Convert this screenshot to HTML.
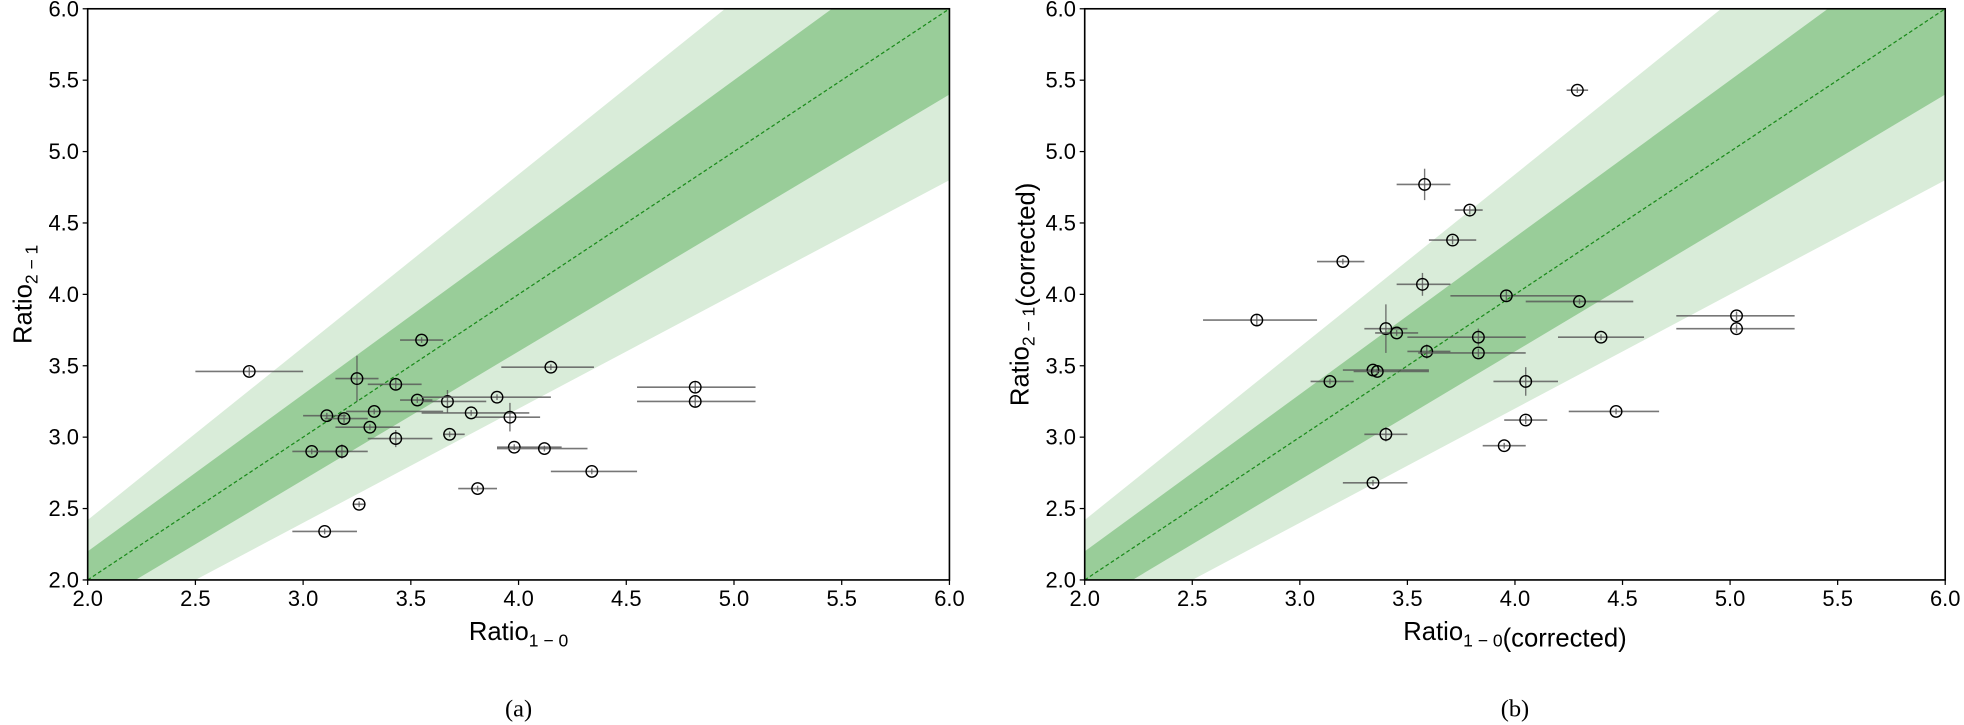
<!DOCTYPE html>
<html><head><meta charset="utf-8"><style>body{margin:0;background:#fff}svg{display:block}</style></head>
<body>
<svg id="s" xmlns="http://www.w3.org/2000/svg" width="1964" height="725" viewBox="0 0 1568 578.8" font-family="Liberation Sans, sans-serif"></svg>
<script>
const s=document.getElementById('s');let h='';
const A=[[2.75,3.46,2.5,3.0,0.03],[3.55,3.68,3.45,3.65,0.02],[3.25,3.41,3.15,3.35,0.16],[3.43,3.37,3.3,3.55,0.04],[4.15,3.49,3.92,4.35,0.02],[4.82,3.35,4.55,5.1,0.04],[4.82,3.25,4.55,5.1,0.04],[3.53,3.26,3.45,3.6,0.02],[3.67,3.25,3.55,3.85,0.08],[3.9,3.28,3.55,4.15,0.02],[3.33,3.18,3.2,3.65,0.02],[3.11,3.15,3.0,3.2,0.02],[3.19,3.13,3.1,3.3,0.03],[3.78,3.17,3.55,4.05,0.02],[3.96,3.14,3.8,4.1,0.1],[3.31,3.07,3.15,3.45,0.02],[3.43,2.99,3.3,3.6,0.06],[3.68,3.02,3.65,3.75,0.02],[3.04,2.9,2.95,3.2,0.02],[3.18,2.9,3.05,3.3,0.05],[3.98,2.93,3.9,4.2,0.02],[4.12,2.92,3.9,4.32,0.02],[4.34,2.76,4.15,4.55,0.02],[3.81,2.64,3.72,3.9,0.02],[3.26,2.53,3.23,3.29,0.02],[3.10,2.34,2.95,3.25,0.02]];
const B=[[4.29,5.43,4.24,4.34,0.02],[3.58,4.77,3.45,3.7,0.11],[3.79,4.59,3.72,3.85,0.03],[3.71,4.38,3.6,3.82,0.03],[3.20,4.23,3.08,3.3,0.02],[3.57,4.07,3.45,3.7,0.08],[2.80,3.82,2.55,3.08,0.04],[3.96,3.99,3.7,4.3,0.04],[4.30,3.95,4.05,4.55,0.02],[5.03,3.85,4.75,5.3,0.03],[5.03,3.76,4.75,5.3,0.03],[3.40,3.76,3.3,3.5,0.17],[3.45,3.73,3.35,3.55,0.02],[3.83,3.70,3.5,4.05,0.06],[4.40,3.70,4.2,4.6,0.02],[3.59,3.60,3.5,3.7,0.05],[3.83,3.59,3.55,4.05,0.03],[3.34,3.47,3.2,3.6,0.02],[3.36,3.46,3.25,3.6,0.02],[3.14,3.39,3.05,3.25,0.02],[4.05,3.39,3.9,4.2,0.1],[4.05,3.12,3.95,4.15,0.03],[4.47,3.18,4.25,4.67,0.02],[3.40,3.02,3.3,3.5,0.05],[3.95,2.94,3.85,4.05,0.02],[3.34,2.68,3.2,3.5,0.02]];
function plot(x0,x1,data,xl,yl,sub,id){
 const y0=7,y1=463,X=v=>x0+(v-2)/4*(x1-x0),Y=v=>y1-(v-2)/4*(y1-y0);
 h+=`<clipPath id="c${id}"><rect x="${x0}" y="${y0}" width="${x1-x0}" height="${y1-y0}"/></clipPath><g clip-path="url(#c${id})">`;
 const band=(k1,k2,c)=>{h+=`<polygon fill="${c}" points="${X(2)},${Y(2*k1)} ${X(6)},${Y(6*k1)} ${X(6)},${Y(6*k2)} ${X(2)},${Y(2*k2)}"/>`};
 band(1.21,0.8,'#d9ecd9');band(1.1,0.9,'#99cd99');
 h+=`<line x1="${X(2)}" y1="${Y(2)}" x2="${X(6)}" y2="${Y(6)}" stroke="#1a8a1a" stroke-width="1" stroke-dasharray="3,2"/>`;
 for(const d of data){const cx=X(d[0]),cy=Y(d[1]);
  h+=`<line x1="${X(d[2])}" y1="${cy}" x2="${X(d[3])}" y2="${cy}" stroke="#555" stroke-opacity=".8" stroke-width="1.3"/><line x1="${cx}" y1="${Y(d[1]-d[4])}" x2="${cx}" y2="${Y(d[1]+d[4])}" stroke="#555" stroke-opacity=".8" stroke-width="1.1"/><circle cx="${cx}" cy="${cy}" r="4.6" fill="none" stroke="#000" stroke-width="1.1"/>`;}
 h+=`</g><rect x="${x0}" y="${y0}" width="${x1-x0}" height="${y1-y0}" fill="none" stroke="#000" stroke-width="1.3"/>`;
 for(let v=2;v<=6.001;v+=0.5){const t=v.toFixed(1);
  h+=`<line x1="${X(v)}" y1="${y1}" x2="${X(v)}" y2="${y1+4}" stroke="#000"/><text x="${X(v)}" y="${y1+21}" font-size="17.5" text-anchor="middle">${t}</text>`;
  h+=`<line x1="${x0-4}" y1="${Y(v)}" x2="${x0}" y2="${Y(v)}" stroke="#000"/><text x="${x0-7}" y="${Y(v)+6}" font-size="17.5" text-anchor="end">${t}</text>`;}
 h+=`<text x="${(x0+x1)/2}" y="511" font-size="20.5" text-anchor="middle">${xl}</text>`;
 h+=`<text transform="translate(${x0-45},${(y0+y1)/2}) rotate(-90)" font-size="20.5" text-anchor="middle">${yl}</text>`;
 h+=`<text x="${(x0+x1)/2}" y="572" font-size="19.5" font-family="Liberation Serif, serif" text-anchor="middle">${sub}</text>`;
}
const sb=t=>`<tspan font-size="14" dy="5">${t}</tspan><tspan dy="-5"></tspan>`;
plot(70,758,A,'Ratio'+sb('1 − 0'),'Ratio'+sb('2 − 1'),'(a)','a');
plot(866,1553,B,'Ratio'+sb('1 − 0')+'(corrected)','Ratio'+sb('2 − 1')+'(corrected)','(b)','b');
s.innerHTML=h;
</script>
</body></html>
